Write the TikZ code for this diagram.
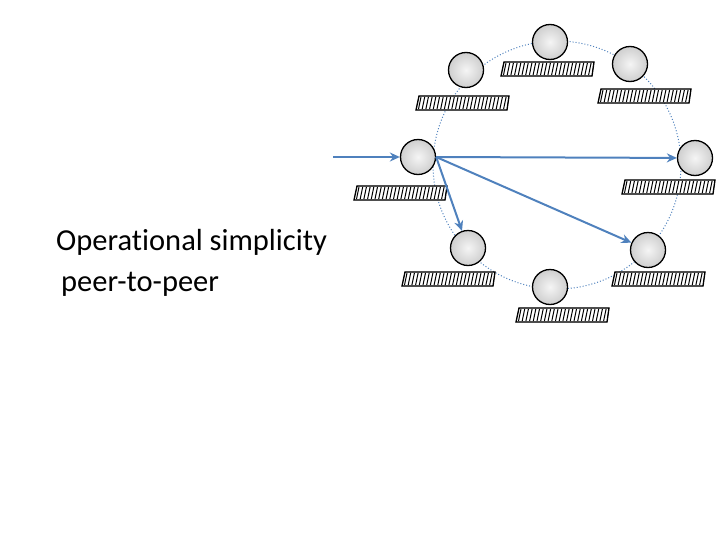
\documentclass[tikz,border=0pt]{standalone}
\usepackage{fontspec}
\setmainfont[Ligatures={NoCommon}]{Carlito}
\usetikzlibrary{arrows.meta}
\definecolor{ablue}{RGB}{79,129,189}
\tikzset{
  peer/.style={circle,draw=black,line width=1.3pt,minimum size=35pt,inner sep=0pt,inner color=gray!8,outer color=gray!38},
  conn/.style={draw=ablue,line width=2pt,-{Stealth[length=10pt,width=9pt]}},
  pics/bar/.style={code={
    \draw[fill=white] (0,0) -- (90,0) -- (88,14) -- (-3,14) -- cycle;
    \foreach \i in {0,...,23} \draw[line width=1pt] ({2+\i*3.7},1) -- ({-0.5+\i*3.7},13);
    \draw[line width=1.3pt] (0,0) -- (90,0) -- (88,14) -- (-3,14) -- cycle;
  }}
}
\begin{document}
\begin{tikzpicture}[x=1pt,y=-1pt]
\useasboundingbox (0,0) rectangle (728,546);
\draw[ablue,dotted,line width=1pt] (557,165) circle (124);
\foreach \n/\x/\y in {a/550/42,b/466/70,c/630/64,d/418/157,e/695/158,f/468/248,g/648/250,h/550/287}
  \node[peer] (\n) at (\x,\y) {};
\foreach \x/\y in {504/62,419/96,601/89,357/186,625/180,405/272,615/272,519/308}
  \pic at (\x,\y) {bar};
\coordinate (in) at (333,157);
\draw[conn] (in) -- (d);
\draw[conn] (d.east) -- (e);
\draw[conn] (d.east) -- (f);
\draw[conn] (d.east) -- (g);
\node[anchor=west,font=\fontsize{30.5}{34}\selectfont,inner sep=0pt] (t1) at (56,242) {Operational simplicity};
\node[anchor=west,font=\fontsize{30.5}{34}\selectfont,inner sep=0pt] (t2) at (61,284) {peer-to-peer};
\end{tikzpicture}
\end{document}
